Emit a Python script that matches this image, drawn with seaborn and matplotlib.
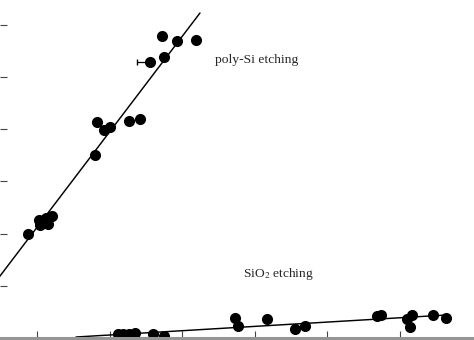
"""
Etch depth vs time: poly-Si and SiO2 etching (cropped figure, no tick labels)
"""
import numpy as np
import pandas as pd
import matplotlib
matplotlib.use("Agg")
import matplotlib.pyplot as plt
import seaborn as sns

# Data (arbitrary units, ticks at 1..6 on both axes)
poly_x = [2.722, 2.928, 3.190, 2.556, 2.749, 1.826, 1.923, 2.006, 2.267, 2.419,
          1.799, 0.876, 1.028, 1.041, 1.152, 1.124, 1.207]
poly_y = [5.785, 5.690, 5.709, 5.287, 5.383, 4.138, 3.985, 4.042, 4.157, 4.195,
          3.506, 1.992, 2.261, 2.165, 2.184, 2.299, 2.337]

sio2_x = [2.116, 2.185, 2.267, 2.350, 2.598, 2.749, 3.727, 3.769, 4.168, 4.554,
          4.691, 5.683, 5.738, 6.096, 6.165, 6.138, 6.455, 6.634]
sio2_y = [0.077, 0.077, 0.077, 0.105, 0.077, 0.038, 0.383, 0.230, 0.364, 0.172,
          0.230, 0.421, 0.441, 0.364, 0.441, 0.211, 0.441, 0.383]

# fitted lines (end points as drawn)
poly_fit_x = [0.30, 3.245]
poly_fit_y = [0.840, 6.226]
sio2_fit_x = [1.537, 6.647]
sio2_fit_y = [0.019, 0.441]

# single horizontal error bar (only the left arm shows)
err_x = [2.556]
err_y = [5.287]
err_xerr_left = [0.18]
err_xerr_right = [0.0]

tick_vals = [1, 2, 3, 4, 5, 6]

sns.set_style("white")
plt.rcParams['font.family'] = ['Liberation Serif', 'DejaVu Serif']
plt.rcParams['mathtext.fontset'] = 'stix'

fig = plt.figure(figsize=(4.74, 3.40), dpi=100)
ax = fig.add_axes([0.0, 2.0 / 340, 1.0, 338.0 / 340])

poly = pd.DataFrame({'x': poly_x, 'y': poly_y})
sio2 = pd.DataFrame({'x': sio2_x, 'y': sio2_y})

sns.lineplot(x=poly_fit_x, y=poly_fit_y, color='black', linewidth=1.05, ax=ax)
sns.lineplot(x=sio2_fit_x, y=sio2_fit_y, color='black', linewidth=1.05, ax=ax)
ax.errorbar(err_x, err_y, xerr=[err_xerr_left, err_xerr_right], fmt='none',
            ecolor='black', elinewidth=0.9, capsize=2.5)
sns.scatterplot(data=poly, x='x', y='y', color='black', s=64, edgecolor='black',
                linewidth=0, ax=ax)
sns.scatterplot(data=sio2, x='x', y='y', color='black', s=64, edgecolor='black',
                linewidth=0, ax=ax)

ax.text(3.452, 5.326, 'poly-Si etching', fontsize=9.7, ha='left', va='center')
ax.text(3.837, 1.226, r'SiO$_2$ etching', fontsize=9.6, ha='left', va='center')

ax.set_xlim(0.49, 7.02)
ax.set_ylim(0, 6.475)
ax.set_xticks(tick_vals)
ax.set_yticks(tick_vals)
ax.set_xticklabels([])
ax.set_yticklabels([])
ax.set_xlabel('')
ax.set_ylabel('')
ax.tick_params(direction='in', length=5, width=0.8, color='#444444',
               bottom=True, left=True)

for side in ['left', 'top', 'right']:
    ax.spines[side].set_visible(False)
ax.spines['bottom'].set_color('#959595')
ax.spines['bottom'].set_linewidth(2.2)

fig.savefig('out.png', dpi=100)
